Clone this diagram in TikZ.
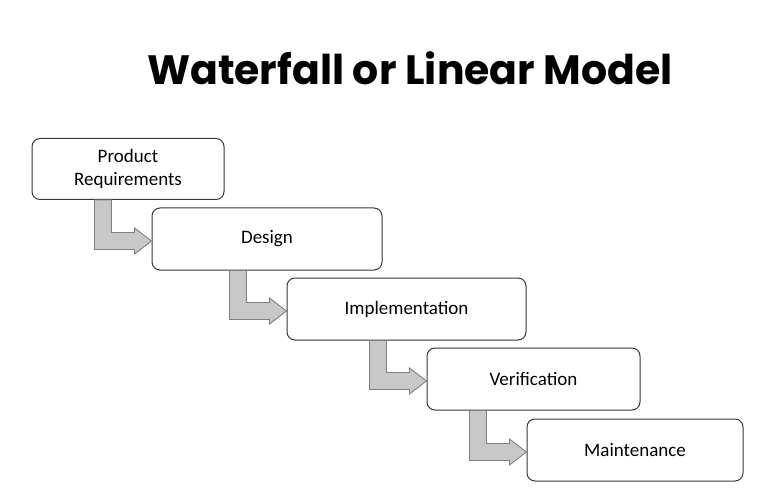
\documentclass[tikz,border=0pt]{standalone}
\usepackage{fontspec}
\setmainfont{Carlito}
\newfontfamily\titlefont{Poppins}
\usetikzlibrary{calc}
\definecolor{arrowfill}{HTML}{C8C8C8}
\definecolor{arrowline}{HTML}{808080}
\definecolor{boxline}{HTML}{383838}
\tikzset{
  stagebox/.style={draw=boxline, line width=1pt, fill=white, rounded corners=8pt,
    minimum height=62pt, align=center, inner sep=0pt,
    font=\fontsize{19}{22.5}\selectfont},
  bentarrow/.style={fill=arrowfill, draw=arrowline, line width=0.9pt, line join=miter}
}
\newcommand\bentarr[2]{%
  \path[bentarrow] let \p1=(#2.west), \p2=(#1.south) in
    (\x1-57pt,\y2) -- (\x1-40pt,\y2) -- (\x1-40pt,\y1-2pt+8.5pt) -- (\x1-17pt,\y1-2pt+8.5pt)
    -- (\x1-17pt,\y1-2pt+13pt) -- (\x1,\y1-2pt) -- (\x1-17pt,\y1-2pt-13pt)
    -- (\x1-17pt,\y1-2pt-8.5pt) -- (\x1-57pt,\y1-2pt-8.5pt) -- cycle;}
\begin{document}
\begin{tikzpicture}[x=1pt,y=1pt]
\useasboundingbox (0,0) rectangle (768,488);
\node (title) at (410,420) {\titlefont\bfseries\fontsize{41}{50}\selectfont Waterfall or Linear Model};
\node[stagebox, minimum width=192pt, minimum height=61pt] (req) at (128,319) {Product\\Requirements};
\node[stagebox, minimum width=230pt] (des) at (267,249) {Design};
\node[stagebox, minimum width=239pt] (imp) at (406.5,179) {Implementation};
\node[stagebox, minimum width=213pt] (ver) at (533.5,109) {Verification};
\node[stagebox, minimum width=216pt] (mai) at (635,38) {Maintenance};
\bentarr{req}{des}
\bentarr{des}{imp}
\bentarr{imp}{ver}
\bentarr{ver}{mai}
\end{tikzpicture}
\end{document}
